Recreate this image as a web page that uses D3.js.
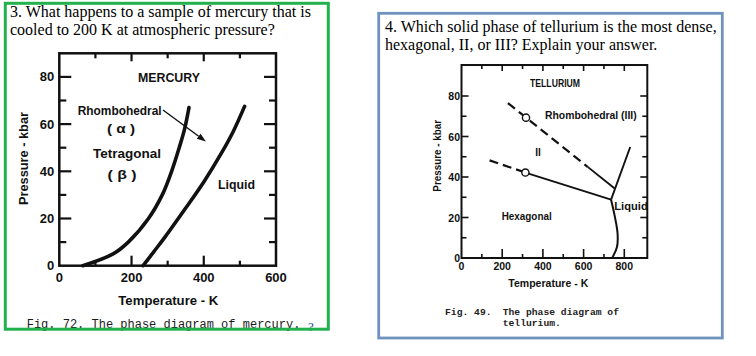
<!DOCTYPE html>
<html><head><meta charset="utf-8">
<script src="https://cdn.jsdelivr.net/npm/d3@7"></script>
<style>body{margin:0;background:#fff}svg{display:block}</style>
</head><body><svg id="c" width="756" height="356"></svg>
<script>
// ---------- data ----------
// Mercury (T in K, P in kbar)
const hgAlphaBeta = [[65,0],[149,5],[191,10],[247,20],[285,30],[311,40],[332,50],[347,58],[359,67]];
const hgMelting = [[232,0],[262,6],[292,12],[348,24],[400,35.5],[450,48],[482,57],[513,67.5]];
const hgArrow = [[287,66],[406,52.6]];
const hgXLabels = [0,200,400,600];
const hgYLabels = [0,20,40,60,80];
const hgYMajor = [20,40,60,80];
const hgYMinor = [10,30,50,70];
const hgXMajor = [200,400];
const hgXMinor = [100,300,500];
// Tellurium
const teUpperDashed = [[228,76.5],[620,45]];
const teUpperSolid = [[620,45],[753,34.3]];
const teLowerDashed = [[138,48.2],[314,42.2]];
const teLowerSolid = [[314,42.2],[735,28.8]];
const teMeltUpper = [[735,28.8],[829,54.8]];
const teMeltLower = [[735,28.8],[754,20.2],[767,12],[764,5.4],[740,0]];
const teCircles = [[317,69.3],[314,42.2]];
const teXLabels = [0,200,400,600,800];
const teYLabels = [0,20,40,60,80];
const teYTicks = [10,20,30,40,50,60,70,80];
const teXMajor = [200,400,600,800];
const teXMinor = [100,300,500,700];

const svg = d3.select("#c");
svg.append("rect").attr("width",756).attr("height",356).attr("fill","#fff");

const SANS = "'Liberation Sans', Arial, sans-serif";
const SERIF = "'Liberation Serif', 'Times New Roman', serif";
const MONO = "'Liberation Mono', 'Courier New', monospace";

function txt(g, x, y, s, o={}) {
  const t = g.append("text").attr("x",x).attr("y",y).text(s)
    .attr("font-family", o.family||SANS).attr("font-size", o.size||12)
    .attr("font-weight", o.weight||"normal").attr("fill", o.fill||"#111")
    .attr("text-anchor", o.anchor||"start");
  if (o.len) t.attr("textLength", o.len).attr("lengthAdjust","spacingAndGlyphs");
  if (o.rotate) t.attr("transform", `rotate(-90 ${x} ${y})`);
  return t;
}
function tickLines(g, values, f, w) {
  g.selectAll(null).data(values).enter().append("line")
    .each(function(v){ const c=f(v); d3.select(this).attr("x1",c[0]).attr("y1",c[1]).attr("x2",c[2]).attr("y2",c[3]); })
    .attr("stroke","#111").attr("stroke-width",w);
}

// ---------- Panel 1: mercury ----------
const p1 = svg.append("g");
txt(p1, 10, 17, "3. What happens to a sample of mercury that is", {family:SERIF, size:16, fill:"#000"});
txt(p1, 10, 35, "cooled to 200 K at atmospheric pressure?", {family:SERIF, size:16, fill:"#000"});

const xM = d3.scaleLinear([0,600],[59.3,276]);
const yM = d3.scaleLinear([0,80],[265.7,76.9]);
const m = p1.append("g");
m.append("rect").attr("x",xM(0)).attr("y",yM(90)).attr("width",xM(600)-xM(0)).attr("height",yM(0)-yM(90))
  .attr("fill","none").attr("stroke","#111").attr("stroke-width",2.5);
tickLines(m, hgYMajor, v=>[xM(0),yM(v),xM(0)+12,yM(v)], 2.2);
tickLines(m, hgYMinor, v=>[xM(0),yM(v),xM(0)+7,yM(v)], 2.2);
tickLines(m, hgYMajor, v=>[xM(600),yM(v),xM(600)-12,yM(v)], 2.2);
tickLines(m, hgYMinor, v=>[xM(600),yM(v),xM(600)-7,yM(v)], 2.2);
tickLines(m, hgXMajor, v=>[xM(v),yM(0),xM(v),yM(0)-10], 2.2);
tickLines(m, hgXMinor, v=>[xM(v),yM(0),xM(v),yM(0)-5], 2.2);
tickLines(m, hgXMajor, v=>[xM(v),yM(90),xM(v),yM(90)+8], 2.2);
tickLines(m, hgXMinor, v=>[xM(v),yM(90),xM(v),yM(90)+5], 2.2);
m.selectAll(null).data(hgXLabels).enter().append("text")
  .attr("x",d=>xM(d)).attr("y",yM(0)+16).attr("text-anchor","middle")
  .attr("font-family",SANS).attr("font-weight","bold").attr("font-size",13).attr("fill","#111").text(d=>d);
m.selectAll(null).data(hgYLabels).enter().append("text")
  .attr("x",xM(0)-5).attr("y",d=>yM(d)+4.5).attr("text-anchor","end")
  .attr("font-family",SANS).attr("font-weight","bold").attr("font-size",13).attr("fill","#111").text(d=>d);

const lineM = d3.line().x(d=>xM(d[0])).y(d=>yM(d[1])).curve(d3.curveCatmullRom.alpha(0.5));
[hgAlphaBeta, hgMelting].forEach(d=>{
  m.append("path").attr("d",lineM(d)).attr("fill","none").attr("stroke","#111").attr("stroke-width",3.6).attr("stroke-linecap","round");
});
// arrow
{
  const [a,b] = hgArrow;
  const x1=xM(a[0]), y1=yM(a[1]), x2=xM(b[0]), y2=yM(b[1]);
  const ang = Math.atan2(y2-y1, x2-x1), L=9, W=3.2;
  const bx = x2 - L*Math.cos(ang), by = y2 - L*Math.sin(ang);
  m.append("line").attr("x1",x1).attr("y1",y1).attr("x2",bx).attr("y2",by).attr("stroke","#111").attr("stroke-width",1.4);
  m.append("path").attr("d",`M${x2},${y2}L${bx-W*Math.sin(ang)},${by+W*Math.cos(ang)}L${bx+W*Math.sin(ang)},${by-W*Math.cos(ang)}Z`).attr("fill","#111");
}
txt(m, 169, 81.7, "MERCURY", {size:12.5, weight:"bold", anchor:"middle", len:62});
txt(m, 77.7, 115, "Rhombohedral", {size:12.5, weight:"bold", len:84});
txt(m, 121, 132.5, "( α )", {size:13, weight:"bold", anchor:"middle", len:28});
txt(m, 93, 157.5, "Tetragonal", {size:12.5, weight:"bold", len:68});
txt(m, 122, 179, "( β )", {size:13, weight:"bold", anchor:"middle", len:29});
txt(m, 218, 188.5, "Liquid", {size:12.5, weight:"bold", len:37});
txt(m, 168.3, 304.5, "Temperature - K", {size:13, weight:"bold", anchor:"middle", len:100});
txt(m, 28, 158.5, "Pressure - kbar", {size:13, weight:"bold", anchor:"middle", len:93, rotate:true});
txt(p1, 26.7, 328, "Fig. 72.  The phase diagram of mercury.", {family:MONO, size:12, fill:"#1a1a1a"});
txt(p1, 308, 331, "?", {family:SERIF, size:13, fill:"#2a4f9a"});
p1.append("rect").attr("x",5.3).attr("y",3.3).attr("width",323).attr("height",325.9)
  .attr("fill","none").attr("stroke","#22b14c").attr("stroke-width",3);

// ---------- Panel 2: tellurium ----------
const p2 = svg.append("g");
txt(p2, 385, 31.5, "4. Which solid phase of tellurium is the most dense,", {family:SERIF, size:16, fill:"#000"});
txt(p2, 385, 49.5, "hexagonal, II, or III? Explain your answer.", {family:SERIF, size:16, fill:"#000"});

const xT = d3.scaleLinear([0,800],[461.5,624.3]);
const yT = d3.scaleLinear([0,80],[258,96]);
const t = p2.append("g");
t.append("rect").attr("x",xT(0)).attr("y",yT(95.3)).attr("width",xT(913)-xT(0)).attr("height",yT(0)-yT(95.3))
  .attr("fill","none").attr("stroke","#111").attr("stroke-width",2);
tickLines(t, teYTicks, v=>[xT(0),yT(v),xT(0)+(v%20===0?7:5),yT(v)], 1.6);
tickLines(t, teYTicks, v=>[xT(913),yT(v),xT(913)-(v%20===0?7:5),yT(v)], 1.6);
tickLines(t, teXMajor, v=>[xT(v),yT(0),xT(v),yT(0)-9], 1.6);
tickLines(t, teXMinor, v=>[xT(v),yT(0),xT(v),yT(0)-4], 1.6);
tickLines(t, teXMajor.concat(teXMinor), v=>[xT(v),yT(95.3),xT(v),yT(95.3)+(v%200===0?6:4)], 1.6);
t.selectAll(null).data(teXLabels).enter().append("text")
  .attr("x",d=>xT(d)).attr("y",yT(0)+12).attr("text-anchor","middle")
  .attr("font-family",SANS).attr("font-weight","bold").attr("font-size",10.5).attr("fill","#111").text(d=>d);
t.selectAll(null).data(teYLabels).enter().append("text")
  .attr("x",xT(0)-1.5).attr("y",d=>yT(d)+4).attr("text-anchor","end")
  .attr("font-family",SANS).attr("font-weight","bold").attr("font-size",10.5).attr("fill","#111").text(d=>d);

const lineT = d3.line().x(d=>xT(d[0])).y(d=>yT(d[1]));
const lineTc = d3.line().x(d=>xT(d[0])).y(d=>yT(d[1])).curve(d3.curveCatmullRom.alpha(0.5));
[teUpperDashed, teLowerDashed].forEach(d=>{
  t.append("path").attr("d",lineT(d)).attr("fill","none").attr("stroke","#111").attr("stroke-width",2.2).attr("stroke-dasharray","9,5");
});
[teUpperSolid, teLowerSolid, teMeltUpper].forEach(d=>{
  t.append("path").attr("d",lineT(d)).attr("fill","none").attr("stroke","#111").attr("stroke-width",1.9);
});
t.append("path").attr("d",lineTc(teMeltLower)).attr("fill","none").attr("stroke","#111").attr("stroke-width",2);
t.selectAll(null).data(teCircles).enter().append("circle")
  .attr("cx",d=>xT(d[0])).attr("cy",d=>yT(d[1])).attr("r",3.6)
  .attr("fill","#fff").attr("stroke","#111").attr("stroke-width",1.4);
txt(t, 555, 87.3, "TELLURIUM", {size:10, weight:"bold", anchor:"middle", len:50});
txt(t, 545, 118.5, "Rhombohedral (III)", {size:10, weight:"bold", len:91.7});
txt(t, 538, 156, "II", {size:10, weight:"bold", anchor:"middle"});
txt(t, 501.7, 220, "Hexagonal", {size:10, weight:"bold", len:50});
txt(t, 614.3, 210, "Liquid", {size:10, weight:"bold", len:33.4});
txt(t, 548.3, 287, "Temperature - K", {size:10.5, weight:"bold", anchor:"middle", len:80});
txt(t, 441.5, 155.8, "Pressure - kbar", {size:10.5, weight:"bold", anchor:"middle", len:71.7, rotate:true});
txt(p2, 445, 315, "Fig. 49.", {family:MONO, size:9.7, weight:"bold", fill:"#222"});
txt(p2, 502.7, 315, "The phase diagram of", {family:MONO, size:9.7, weight:"bold", fill:"#222"});
txt(p2, 502.7, 326, "tellurium.", {family:MONO, size:9.7, weight:"bold", fill:"#222"});
p2.append("rect").attr("x",378.7).attr("y",13.3).attr("width",343.6).attr("height",324.7)
  .attr("fill","none").attr("stroke","#7092be").attr("stroke-width",2.8);
</script></body></html>
